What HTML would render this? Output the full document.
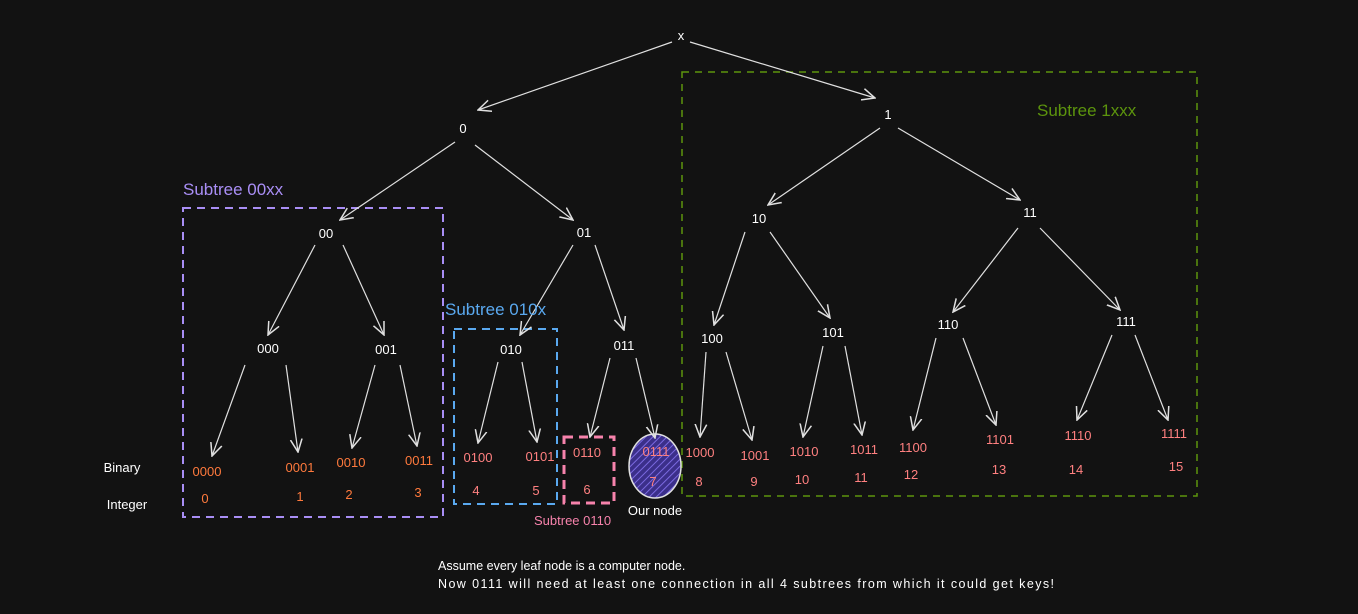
<!DOCTYPE html>
<html><head><meta charset="utf-8"><style>
html,body{margin:0;padding:0;background:#121212;}
svg{display:block}
text{font-family:"Liberation Sans",sans-serif;}
</style></head><body>
<svg width="1358" height="614" viewBox="0 0 1358 614" xmlns="http://www.w3.org/2000/svg">
<defs>
<marker id="a" viewBox="0 0 12 12" refX="11" refY="6" markerWidth="14" markerHeight="14" markerUnits="userSpaceOnUse" orient="auto">
<path d="M0,1 L11,6 L0,11" fill="none" stroke="#e0e0e0" stroke-width="1.3"/>
</marker>
<pattern id="h" width="5" height="5" patternUnits="userSpaceOnUse" patternTransform="rotate(45)">
<rect width="5" height="5" fill="#3b2f8a"/><line x1="0" y1="0" x2="0" y2="5" stroke="#7b6ae0" stroke-width="2"/>
</pattern>
</defs>
<rect width="1358" height="614" fill="#121212"/>
<!-- boxes -->
<rect x="183" y="208" width="260" height="309" fill="none" stroke="#a98ef5" stroke-width="2" stroke-dasharray="8,6"/>
<rect x="454" y="329" width="103" height="175" fill="none" stroke="#5aa9f0" stroke-width="2" stroke-dasharray="8,6"/>
<rect x="564" y="437" width="50" height="66" fill="none" stroke="#f783ac" stroke-width="3" stroke-dasharray="9,6"/>
<rect x="682" y="72" width="515" height="424" fill="none" stroke="#5c940d" stroke-width="1.5" stroke-dasharray="7,6"/>
<ellipse cx="655" cy="466" rx="26" ry="32" fill="url(#h)" stroke="#e0e0e0" stroke-width="1.5"/>
<!-- arrows -->
<g stroke="#e0e0e0" stroke-width="1.2" fill="none" marker-end="url(#a)">
<line x1="672" y1="42" x2="478" y2="110"/>
<line x1="690" y1="42" x2="875" y2="98"/>
<line x1="455" y1="142" x2="340" y2="220"/>
<line x1="475" y1="145" x2="573" y2="220"/>
<line x1="880" y1="128" x2="768" y2="205"/>
<line x1="898" y1="128" x2="1020" y2="200"/>
<line x1="315" y1="245" x2="268" y2="335"/>
<line x1="343" y1="245" x2="384" y2="335"/>
<line x1="573" y1="245" x2="520" y2="335"/>
<line x1="595" y1="245" x2="624" y2="330"/>
<line x1="745" y1="232" x2="714" y2="325"/>
<line x1="770" y1="232" x2="830" y2="318"/>
<line x1="1018" y1="228" x2="953" y2="312"/>
<line x1="1040" y1="228" x2="1120" y2="310"/>
<line x1="245" y1="365" x2="212" y2="456"/>
<line x1="286" y1="365" x2="298" y2="452"/>
<line x1="375" y1="365" x2="352" y2="448"/>
<line x1="400" y1="365" x2="417" y2="446"/>
<line x1="498" y1="362" x2="478" y2="443"/>
<line x1="522" y1="362" x2="537" y2="442"/>
<line x1="610" y1="358" x2="590" y2="437"/>
<line x1="636" y1="358" x2="655" y2="438"/>
<line x1="706" y1="352" x2="700" y2="437"/>
<line x1="726" y1="352" x2="752" y2="440"/>
<line x1="823" y1="346" x2="803" y2="437"/>
<line x1="845" y1="346" x2="862" y2="435"/>
<line x1="936" y1="338" x2="913" y2="430"/>
<line x1="963" y1="338" x2="996" y2="425"/>
<line x1="1112" y1="335" x2="1077" y2="420"/>
<line x1="1135" y1="335" x2="1168" y2="420"/>
</g>
<!-- internal nodes -->
<g fill="#ffffff" font-size="13" text-anchor="middle">
<text x="681" y="40">x</text>
<text x="463" y="133">0</text>
<text x="888" y="119">1</text>
<text x="326" y="238">00</text>
<text x="584" y="237">01</text>
<text x="759" y="223">10</text>
<text x="1030" y="217">11</text>
<text x="268" y="353">000</text>
<text x="386" y="354">001</text>
<text x="511" y="354">010</text>
<text x="624" y="350">011</text>
<text x="712" y="343">100</text>
<text x="833" y="337">101</text>
<text x="948" y="329">110</text>
<text x="1126" y="326">111</text>
<text x="122" y="472">Binary</text>
<text x="127" y="509">Integer</text>
<text x="655" y="515">Our node</text>
</g>
<!-- leaves -->
<g fill="#ff7a3d" font-size="13" text-anchor="middle">
<text x="207" y="476">0000</text><text x="300" y="472">0001</text><text x="351" y="467">0010</text><text x="419" y="465">0011</text>
<text x="205" y="503">0</text><text x="300" y="501">1</text><text x="349" y="499">2</text><text x="418" y="497">3</text>
</g>
<g fill="#ff8080" font-size="13" text-anchor="middle">
<text x="478" y="462">0100</text><text x="540" y="461">0101</text><text x="587" y="457">0110</text><text x="656" y="456">0111</text>
<text x="700" y="457">1000</text><text x="755" y="460">1001</text><text x="804" y="456">1010</text><text x="864" y="454">1011</text>
<text x="913" y="452">1100</text><text x="1000" y="444">1101</text><text x="1078" y="440">1110</text><text x="1174" y="438">1111</text>
<text x="476" y="495">4</text><text x="536" y="495">5</text><text x="587" y="494">6</text><text x="653" y="486">7</text>
<text x="699" y="486">8</text><text x="754" y="486">9</text><text x="802" y="484">10</text><text x="861" y="482">11</text>
<text x="911" y="479">12</text><text x="999" y="474">13</text><text x="1076" y="474">14</text><text x="1176" y="471">15</text>
</g>
<text x="183" y="195" fill="#a98ef5" font-size="17">Subtree 00xx</text>
<text x="445" y="315" fill="#5aa9f0" font-size="17">Subtree 010x</text>
<text x="534" y="525" fill="#f783ac" font-size="13">Subtree 0110</text>
<text x="1037" y="116" fill="#5c940d" font-size="17">Subtree 1xxx</text>
<text x="438" y="570" fill="#ffffff" font-size="12.5">Assume every leaf node is a computer node.</text>
<text x="438" y="588" fill="#ffffff" font-size="12.5" textLength="616">Now 0111 will need at least one connection in all 4 subtrees from which it could get keys!</text>
</svg>
</body></html>
